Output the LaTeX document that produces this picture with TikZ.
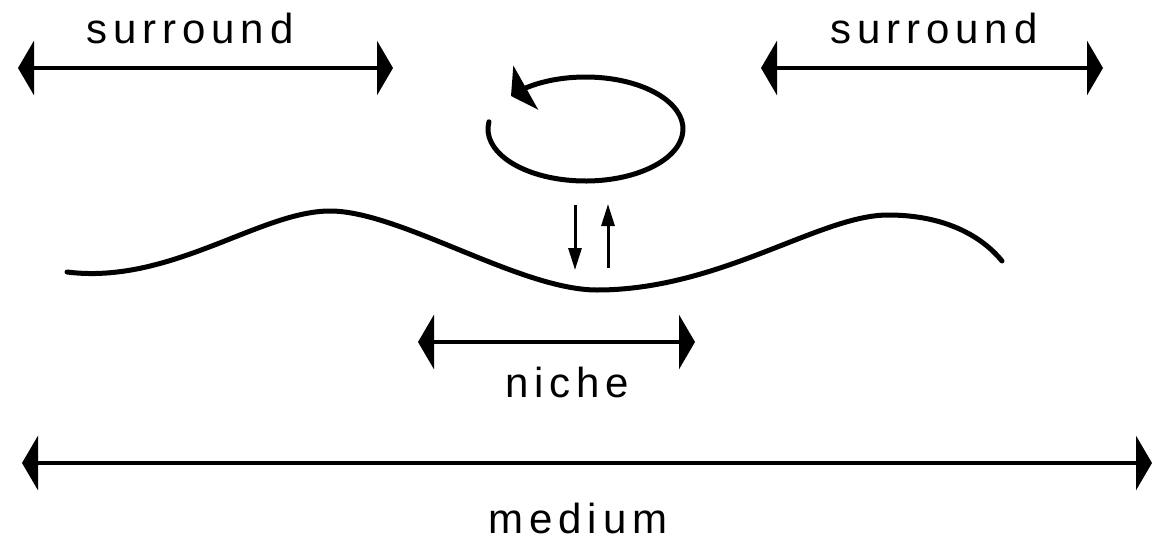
\documentclass[tikz,border=0pt]{standalone}
\usepackage{fontspec}
\setmainfont{Liberation Sans}[LetterSpace=14]
\usetikzlibrary{arrows.meta}
\tikzset{
  bigtip/.tip={Triangle[length=16pt,width=54pt]},
  span/.style={line width=4.6pt,{bigtip}-{bigtip}},
  lbl/.style={anchor=base,inner sep=0pt,font=\fontsize{42}{50}\selectfont},
  curve/.style={line width=5pt,line cap=round,line join=round},
  flux/.style={line width=3pt,-{Triangle[length=22pt,width=13pt]}},
}
\begin{document}
\begin{tikzpicture}[x=1pt,y=-1pt]
\useasboundingbox (0,0) rectangle (1160,552);
% surround left
\coordinate (sl1) at (18,68);
\coordinate (sl2) at (393,68);
\draw[span] (sl1) -- (sl2);
\node[lbl] (tsl) at (190,43) {surround};
% surround right
\coordinate (sr1) at (761,68);
\coordinate (sr2) at (1103,68);
\draw[span] (sr1) -- (sr2);
\node[lbl] (tsr) at (934,43) {surround};
% niche
\coordinate (n1) at (418,342);
\coordinate (n2) at (695,342);
\draw[span] (n1) -- (n2);
\node[lbl] (tn) at (567,397) {niche};
% medium
\coordinate (m1) at (22,463);
\coordinate (m2) at (1152,463);
\draw[span] (m1) -- (m2);
\node[lbl] (tm) at (578,533) {medium};
% circulation
\coordinate (c0) at (585.5,129);
\coordinate (cend) at (511,96);
\draw[curve,-{Triangle[length=17pt,width=50pt]}] (c0) ++(188:97.5 and 52) arc[start angle=188,end angle=-129,x radius=97.5,y radius=52] -- (cend);
% wave
\coordinate (w0) at (67,272);
\coordinate (w1) at (330,211);
\coordinate (w2) at (597,290);
\coordinate (w3) at (888,215);
\coordinate (w4) at (1002,261);
\draw[curve] (w0) .. controls (170,285) and (260,211) .. (w1)
  .. controls (400,211) and (520,290) .. (w2)
  .. controls (720,290) and (820,215) .. (w3)
  .. controls (950,215) and (985,240) .. (w4);
% exchange arrows
\coordinate (d1) at (575,205);
\coordinate (d2) at (575,270);
\coordinate (u1) at (608,268);
\coordinate (u2) at (608,204);
\draw[flux] (d1) -- (d2);
\draw[flux] (u1) -- (u2);
\end{tikzpicture}
\end{document}
